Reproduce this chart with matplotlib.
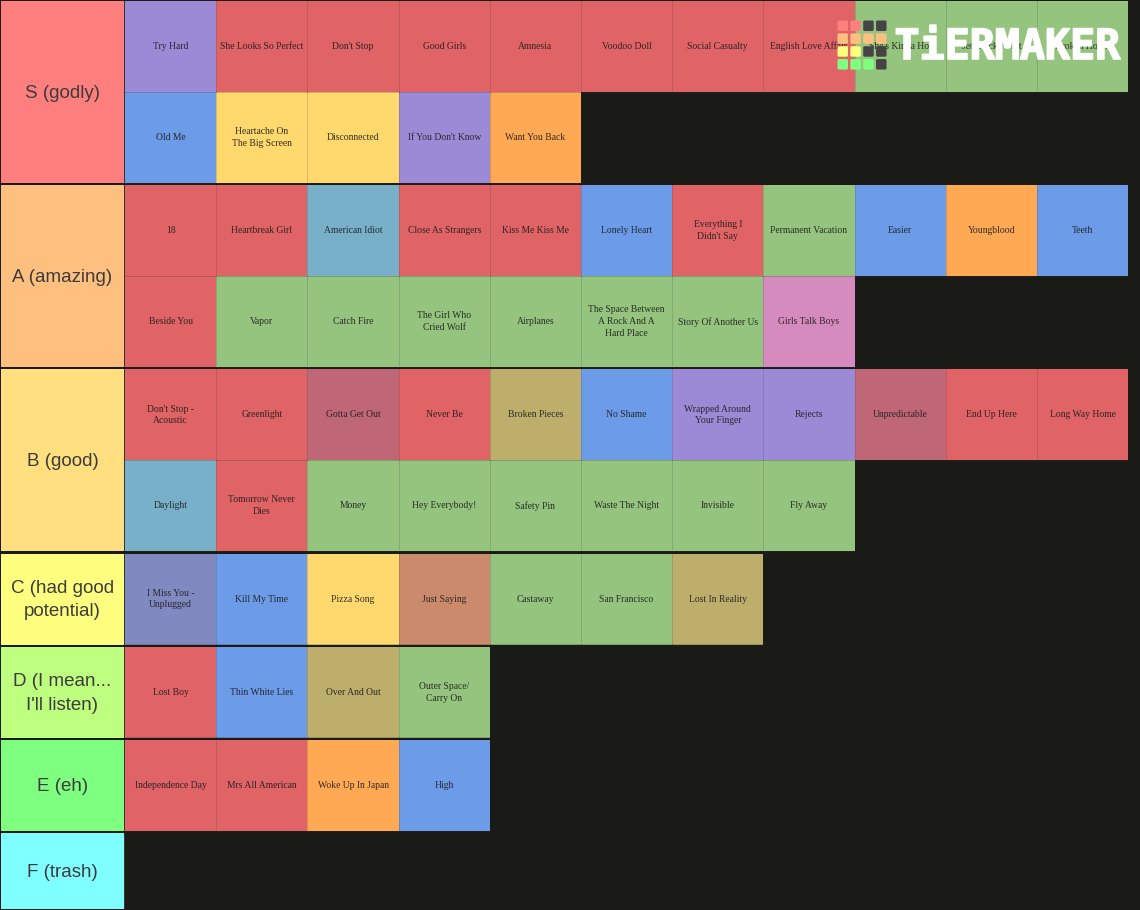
import matplotlib
matplotlib.use('Agg')
import matplotlib.pyplot as plt
import matplotlib.patheffects as pe
from matplotlib.patches import Rectangle, FancyBboxPatch

# tier names and colours
tier_names = ['S (godly)', 'A (amazing)', 'B (good)', 'C (had good\npotential)',
              "D (I mean...\nI'll listen)", 'E (eh)', 'F (trash)']
tier_colors = ['#ff7f7f', '#ffbf7f', '#ffdf7f', '#ffff7f', '#bfff7f', '#7fff7f', '#7fffff']

# album colours
R = '#e06366'
G = '#95c47e'
B = '#6c9be8'
P = '#9d8ad6'
Y = '#ffd96e'
O = '#ffa955'
T = '#78b0ca'
K = '#d68bbf'
M = '#c06777'
L = '#bdae6c'
S = '#8089c0'
N = '#cc8a6c'

s_row1 = ['Try Hard', 'She Looks So Perfect', "Don't Stop", 'Good Girls', 'Amnesia', 'Voodoo Doll',
          'Social Casualty', 'English Love Affair', "She's Kinda Hot", 'Jet Black Heart', 'Broken Home']
s_row1_colors = [P, R, R, R, R, R, R, R, G, G, G]
s_row2 = ['Old Me', 'Heartache On\nThe Big Screen', 'Disconnected', "If You Don't Know", 'Want You Back']
s_row2_colors = [B, Y, Y, P, O]

a_row1 = ['18', 'Heartbreak Girl', 'American Idiot', 'Close As Strangers', 'Kiss Me Kiss Me', 'Lonely Heart',
          "Everything I\nDidn't Say", 'Permanent Vacation', 'Easier', 'Youngblood', 'Teeth']
a_row1_colors = [R, R, T, R, R, B, R, G, B, O, B]
a_row2 = ['Beside You', 'Vapor', 'Catch Fire', 'The Girl Who\nCried Wolf', 'Airplanes',
          'The Space Between\nA Rock And A\nHard Place', 'Story Of Another Us', 'Girls Talk Boys']
a_row2_colors = [R, G, G, G, G, G, G, K]

b_row1 = ["Don't Stop -\nAcoustic", 'Greenlight', 'Gotta Get Out', 'Never Be', 'Broken Pieces', 'No Shame',
          'Wrapped Around\nYour Finger', 'Rejects', 'Unpredictable', 'End Up Here', 'Long Way Home']
b_row1_colors = [R, R, M, R, L, B, P, P, M, R, R]
b_row2 = ['Daylight', 'Tomorrow Never\nDies', 'Money', 'Hey Everybody!', 'Safety Pin', 'Waste The Night',
          'Invisible', 'Fly Away']
b_row2_colors = [T, R, G, G, G, G, G, G]

c_row1 = ['I Miss You -\nUnplugged', 'Kill My Time', 'Pizza Song', 'Just Saying', 'Castaway', 'San Francisco',
          'Lost In Reality']
c_row1_colors = [S, B, Y, N, G, G, L]

d_row1 = ['Lost Boy', 'Thin White Lies', 'Over And Out', 'Outer Space/\nCarry On']
d_row1_colors = [R, B, L, G]

e_row1 = ['Independence Day', 'Mrs All American', 'Woke Up In Japan', 'High']
e_row1_colors = [R, R, O, B]

tier_rows = [[(s_row1, s_row1_colors), (s_row2, s_row2_colors)],
             [(a_row1, a_row1_colors), (a_row2, a_row2_colors)],
             [(b_row1, b_row1_colors), (b_row2, b_row2_colors)],
             [(c_row1, c_row1_colors)],
             [(d_row1, d_row1_colors)],
             [(e_row1, e_row1_colors)],
             []]

# logo grid, 0 = dark square
logo_colors = [['#ff7f7f', '#ff7f7f', 0, 0],
               ['#ffbf7f', '#ffbf7f', '#ffbf7f', '#ffbf7f'],
               ['#ffff7f', '#ffff7f', 0, 0],
               ['#7fff7f', '#7fff7f', '#7fff7f', 0]]

W, H = 1140, 910
label_w = 124
tile_w = 91.2
row_h = 91.0
gap = 2.2
last_h = 76

fig = plt.figure(figsize=(W / 100, H / 100), dpi=100, facecolor='#1a1a17')
ax = fig.add_axes([0, 0, 1, 1])
ax.set_xlim(0, W)
ax.set_ylim(H, 0)
ax.axis('off')

y = 1.0
for name, color, rows in zip(tier_names, tier_colors, tier_rows):
    tier_h = row_h * len(rows) if rows else last_h
    ax.add_patch(Rectangle((1, y), label_w - 1, tier_h, fc=color, ec='none'))
    ax.text(1 + (label_w - 1) / 2, y + tier_h / 2 + 1, name, ha='center', va='center',
            family='Liberation Sans', fontsize=13.5, color='#3c3c3c', linespacing=1.5)
    ax.add_patch(Rectangle((label_w, y), 1.2, tier_h, fc='#4a4a40', ec='none', alpha=0.6))

    for r, (labels, colors) in enumerate(rows):
        row_y = y + r * row_h
        for i, (label, c) in enumerate(zip(labels, colors)):
            x = label_w + 1 + i * tile_w
            ax.add_patch(Rectangle((x, row_y), tile_w, row_h, fc=c, ec='none'))
            # faint seam between tiles
            if i > 0:
                ax.plot([x, x], [row_y, row_y + row_h], color='#333333', lw=0.7, alpha=0.18)
            ax.plot([x, x + tile_w], [row_y + row_h - 0.5] * 2, color='#333333', lw=0.7, alpha=0.25)
            ax.text(x + tile_w / 2, row_y + row_h / 2, label, ha='center', va='center',
                    family='Liberation Serif', fontsize=6.9, color='#1c1c1c', alpha=0.9, linespacing=1.4)
    y += tier_h + gap

# watermark logo
logo_x, logo_y, pitch, sq = 837.5, 20.5, 12.85, 10.5
for r, row in enumerate(logo_colors):
    for c, col in enumerate(row):
        ax.add_patch(FancyBboxPatch((logo_x + c * pitch + 1.5, logo_y + r * pitch + 1.5), sq - 3, sq - 3,
                                    boxstyle='round,pad=1.5', fc=col if col else '#444444', ec='none', zorder=5))
ax.text(1007, 47, 'TiERMAKER', ha='center', va='center', family='DejaVu Sans Mono', fontweight='bold',
        fontsize=30, color='white', zorder=6,
        path_effects=[pe.withStroke(linewidth=1.2, foreground='white')])

fig.savefig('out.png', dpi=100, facecolor=fig.get_facecolor())
